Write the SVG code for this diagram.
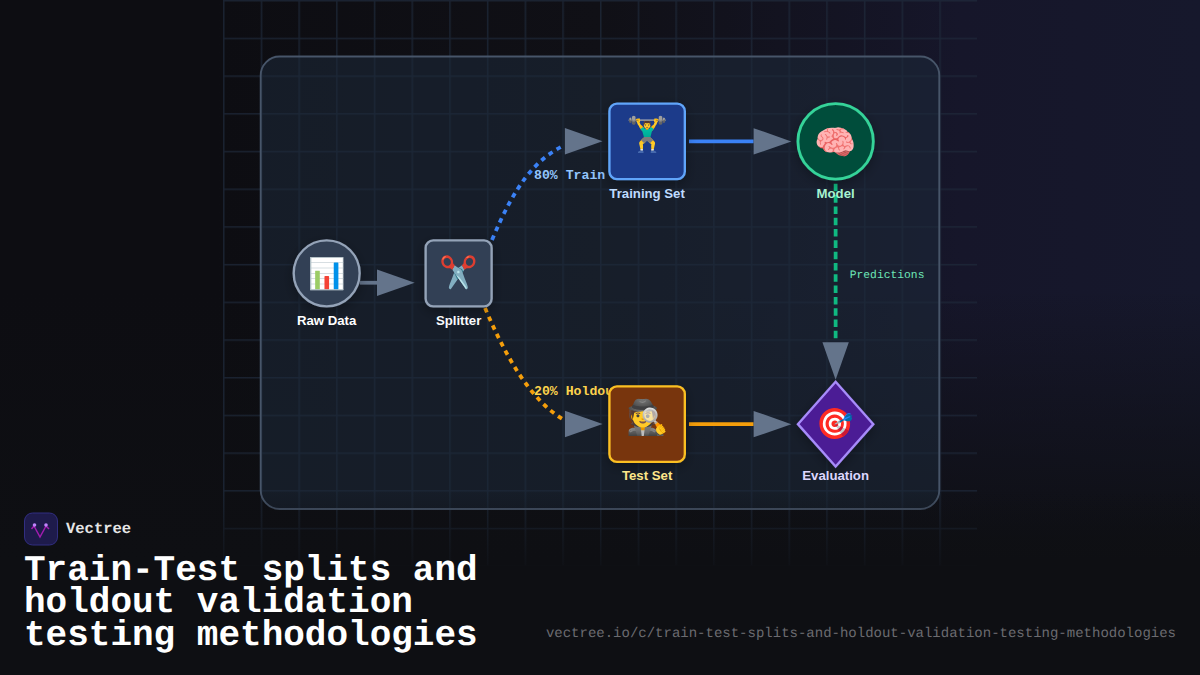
<svg xmlns="http://www.w3.org/2000/svg" width="1200" height="675" viewBox="0 0 1200 675">
<style>
.lbl{font-family:"Liberation Sans",Arial,sans-serif;font-weight:700;font-size:14px;text-anchor:middle}
.emo{font-family:"Noto Color Emoji","Noto Sans",sans-serif;text-anchor:middle}
.edge{font-family:"Liberation Mono",monospace;font-weight:700;font-size:14px}
.mono{font-family:"Liberation Mono",monospace;text-rendering:geometricPrecision}
.c{fill:none;stroke-width:4}
.n{stroke-width:2.500;filter:url(#sh)}
</style>
<defs>
<linearGradient id="bg" x1="0" y1="0" x2="1" y2="0"><stop offset=".18" stop-color="#0d0d12"/><stop offset=".5" stop-color="#101016"/><stop offset=".8" stop-color="#16162a"/><stop offset="1" stop-color="#16182c"/></linearGradient>
<linearGradient id="low" x1="0" y1="0" x2="0" y2="1"><stop offset="0" stop-color="#0e0f13" stop-opacity="0"/><stop offset="1" stop-color="#0e0f13" stop-opacity="1"/></linearGradient>
<linearGradient id="fade" x1="0" y1="0" x2="0" y2="1"><stop offset="0" stop-color="#0e0f13" stop-opacity="0"/><stop offset="1" stop-color="#0e0f13" stop-opacity=".85"/></linearGradient>
<filter id="sh" x="-30%" y="-30%" width="160%" height="170%"><feDropShadow dx="0" dy="4" stdDeviation="6" flood-color="#000" flood-opacity=".3"/></filter>
<pattern id="grid" width="40" height="40" patternUnits="userSpaceOnUse"><path d="M0 0H40V1.600H1.600V40H0Z" fill="#1e293b" fill-opacity=".75"/></pattern>
<marker id="h" markerUnits="userSpaceOnUse" markerWidth="40" markerHeight="28" refX="0" refY="14" orient="0" overflow="visible"><path d="M0 0L40 14L0 28Z" fill="#64748b"/></marker>
<marker id="hv" markerUnits="userSpaceOnUse" markerWidth="40" markerHeight="28" refX="0" refY="14" orient="90" overflow="visible"><path d="M0 0L40 14L0 28Z" fill="#64748b"/></marker>
<marker id="hb" markerUnits="userSpaceOnUse" markerWidth="40" markerHeight="28" refX="-2" refY="19" orient="0" overflow="visible"><path d="M0 0L40 14L0 28Z" fill="#64748b"/></marker>
<marker id="ho" markerUnits="userSpaceOnUse" markerWidth="40" markerHeight="28" refX="-1" refY="9.7" orient="0" overflow="visible"><path d="M0 0L40 14L0 28Z" fill="#64748b"/></marker>
</defs>
<rect width="1200" height="675" fill="url(#bg)"/>
<rect y="290" width="1200" height="270" fill="url(#low)"/>
<rect y="560" width="1200" height="115" fill="#0e0f13"/>
<g transform="translate(223 0) scale(.9425)">
<rect id="grid-bg" width="800" height="600" fill="url(#grid)"/>
<rect id="panel" x="40" y="60" width="720" height="480" rx="20" fill="#1e293b" fill-opacity=".55" stroke="#475569" stroke-width="2"/>
<g id="connectors">
<path class="c" d="M145 300H163.400" stroke="#64748b" marker-end="url(#h)"/>
<path class="c" d="M285.400 254.600C309.800 196.300 331 169.800 360.700 154.900" stroke="#3b82f6" stroke-dasharray="5 5" marker-end="url(#hb)"/>
<path class="c" d="M278 326.800C299.200 376.700 325.700 424.400 361.800 445.600" stroke="#f59e0b" stroke-dasharray="5 5" marker-end="url(#ho)"/>
<path class="c" d="M494.400 150H563" stroke="#3b82f6" marker-end="url(#h)"/>
<path class="c" d="M494.400 450H563" stroke="#f59e0b" marker-end="url(#h)"/>
<path class="c" d="M650 195V363" stroke="#10b981" stroke-dasharray="8 4" marker-end="url(#hv)"/>
<text class="edge" x="330" y="190" fill="#93c5fd">80% Train</text>
<text class="edge" x="330" y="419" fill="#fcd34d">20% Holdout</text>
<text class="mono" x="665" y="295" font-size="12" fill="#6ee7b7">Predictions</text>
</g>
<g id="raw-data"><circle class="n" cx="110" cy="290" r="35" fill="#334155" stroke="#94a3b8"/><text class="emo" x="110" y="301" font-size="32">📊</text><text class="lbl" x="110" y="345" fill="#fff">Raw Data</text></g>
<g id="splitter"><rect class="n" x="215" y="255" width="70" height="70" rx="8" fill="#334155" stroke="#94a3b8"/><text class="emo" x="250" y="300" font-size="33">✂️</text><text class="lbl" x="250" y="345" fill="#f8fafc">Splitter</text></g>
<g id="training-set"><rect class="n" x="410" y="110" width="80" height="80" rx="8" fill="#1e3a8a" stroke="#60a5fa"/><text class="emo" x="450" y="155" font-size="36">🏋️‍♂️</text><text class="lbl" x="450" y="210" fill="#bfdbfe">Training Set</text></g>
<g id="model"><circle class="n" cx="650" cy="150" r="40" fill="#064e3b" stroke="#34d399" style="stroke-width:3"/><text class="emo" x="650" y="163" font-size="36">🧠</text><text class="lbl" x="650" y="210" fill="#a7f3d0">Model</text></g>
<g id="test-set"><rect class="n" x="410" y="410" width="80" height="80" rx="8" fill="#78350f" stroke="#fbbf24"/><text class="emo" x="450" y="455" font-size="36">🕵️</text><text class="lbl" x="450" y="509" fill="#fde68a">Test Set</text></g>
<g id="evaluation"><path class="n" d="M650 405L690 450L650 495L610 450Z" fill="#4c1d95" stroke="#a78bfa"/><text class="emo" x="650" y="461" font-size="32">🎯</text><text class="lbl" x="650" y="509" fill="#ddd6fe">Evaluation</text></g>
</g>
<rect y="490" width="1200" height="76" fill="url(#fade)"/>
<g id="brand">
<rect x="24.500" y="513" width="33" height="32" rx="8" fill="#1e1b4b" stroke="#312e81"/>
<path d="M34 526L40 537L46 526M34 526L31.500 529M46 526L49 529" fill="none" stroke="#a21caf" stroke-width="1.500"/>
<circle cx="34.500" cy="525" r="1.800" fill="#c084fc"/><circle cx="46" cy="525" r="1.800" fill="#c084fc"/>
<text class="mono" x="66" y="533" font-size="15.500" font-weight="700" fill="#e5e5e5">Vectree</text>
</g>
<g id="title" class="mono" font-size="36" font-weight="700" fill="#fff">
<text x="24" y="580">Train-Test splits and</text>
<text x="24" y="612.400">holdout validation</text>
<text x="24" y="644.800">testing methodologies</text>
</g>
<text class="mono" x="1176" y="637" font-size="14" fill="#6b6b70" text-anchor="end">vectree.io/c/train-test-splits-and-holdout-validation-testing-methodologies</text>
</svg>
